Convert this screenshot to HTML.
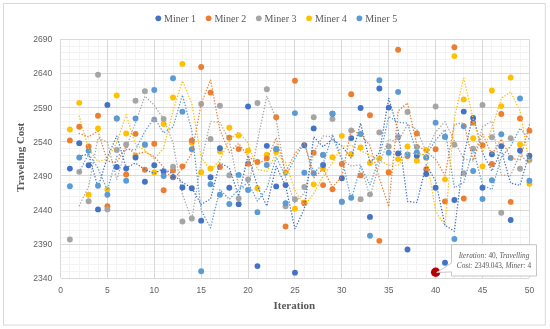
<!DOCTYPE html>
<html><head><meta charset="utf-8"><title>Traveling cost per iteration</title>
<style>html,body{margin:0;padding:0;background:#fff}svg{display:block}.tk{font-family:"Liberation Sans",sans-serif;font-size:8.5px;fill:#606060}.lg{font-family:"Liberation Serif",serif;font-size:10px;fill:#595959}.ax{font-family:"Liberation Serif",serif;font-size:11px;font-weight:bold;fill:#595959}.cl{font-family:"Liberation Serif",serif;font-size:7.3px;fill:#595959}</style></head><body>
<svg width="550" height="329" viewBox="0 0 550 329">
<rect x="0" y="0" width="550" height="329" fill="#fff"/>
<rect x="3.5" y="3.5" width="541.8" height="321.6" fill="#fff" stroke="#D9D9D9" stroke-width="1"/>
<path d="M69.88 39.30V278.40M79.26 39.30V278.40M88.63 39.30V278.40M98.01 39.30V278.40M116.77 39.30V278.40M126.15 39.30V278.40M135.52 39.30V278.40M144.90 39.30V278.40M163.66 39.30V278.40M173.04 39.30V278.40M182.41 39.30V278.40M191.79 39.30V278.40M210.55 39.30V278.40M219.93 39.30V278.40M229.30 39.30V278.40M238.68 39.30V278.40M257.44 39.30V278.40M266.82 39.30V278.40M276.19 39.30V278.40M285.57 39.30V278.40M304.33 39.30V278.40M313.71 39.30V278.40M323.08 39.30V278.40M332.46 39.30V278.40M351.22 39.30V278.40M360.60 39.30V278.40M369.97 39.30V278.40M379.35 39.30V278.40M398.11 39.30V278.40M407.49 39.30V278.40M416.86 39.30V278.40M426.24 39.30V278.40M445.00 39.30V278.40M454.38 39.30V278.40M463.75 39.30V278.40M473.13 39.30V278.40M491.89 39.30V278.40M501.27 39.30V278.40M510.64 39.30V278.40M520.02 39.30V278.40M60.50 271.57H529.40M60.50 264.74H529.40M60.50 257.91H529.40M60.50 251.07H529.40M60.50 237.41H529.40M60.50 230.58H529.40M60.50 223.75H529.40M60.50 216.92H529.40M60.50 203.25H529.40M60.50 196.42H529.40M60.50 189.59H529.40M60.50 182.76H529.40M60.50 169.10H529.40M60.50 162.27H529.40M60.50 155.43H529.40M60.50 148.60H529.40M60.50 134.94H529.40M60.50 128.11H529.40M60.50 121.28H529.40M60.50 114.45H529.40M60.50 100.78H529.40M60.50 93.95H529.40M60.50 87.12H529.40M60.50 80.29H529.40M60.50 66.63H529.40M60.50 59.79H529.40M60.50 52.96H529.40M60.50 46.13H529.40" stroke="#F3F3F3" stroke-width="1" fill="none" shape-rendering="crispEdges"/>
<path d="M60.50 39.30V278.40M107.39 39.30V278.40M154.28 39.30V278.40M201.17 39.30V278.40M248.06 39.30V278.40M294.95 39.30V278.40M341.84 39.30V278.40M388.73 39.30V278.40M435.62 39.30V278.40M482.51 39.30V278.40M529.40 39.30V278.40M60.50 278.40H529.40M60.50 244.24H529.40M60.50 210.09H529.40M60.50 175.93H529.40M60.50 141.77H529.40M60.50 107.61H529.40M60.50 73.46H529.40M60.50 39.30H529.40" stroke="#D9D9D9" stroke-width="1" fill="none" shape-rendering="crispEdges"/>
<text class="tk" x="52.2" y="281.40" text-anchor="end">2340</text>
<text class="tk" x="52.2" y="247.24" text-anchor="end">2390</text>
<text class="tk" x="52.2" y="213.09" text-anchor="end">2440</text>
<text class="tk" x="52.2" y="178.93" text-anchor="end">2490</text>
<text class="tk" x="52.2" y="144.77" text-anchor="end">2540</text>
<text class="tk" x="52.2" y="110.61" text-anchor="end">2590</text>
<text class="tk" x="52.2" y="76.46" text-anchor="end">2640</text>
<text class="tk" x="52.2" y="42.30" text-anchor="end">2690</text>
<text class="tk" x="60.50" y="292.9" text-anchor="middle">0</text>
<text class="tk" x="107.39" y="292.9" text-anchor="middle">5</text>
<text class="tk" x="154.28" y="292.9" text-anchor="middle">10</text>
<text class="tk" x="201.17" y="292.9" text-anchor="middle">15</text>
<text class="tk" x="248.06" y="292.9" text-anchor="middle">20</text>
<text class="tk" x="294.95" y="292.9" text-anchor="middle">25</text>
<text class="tk" x="341.84" y="292.9" text-anchor="middle">30</text>
<text class="tk" x="388.73" y="292.9" text-anchor="middle">35</text>
<text class="tk" x="435.62" y="292.9" text-anchor="middle">40</text>
<text class="tk" x="482.51" y="292.9" text-anchor="middle">45</text>
<text class="tk" x="529.40" y="292.9" text-anchor="middle">50</text>
<g fill="#FFC000">
<circle cx="69.88" cy="129.47" r="2.95"/>
<circle cx="79.26" cy="102.83" r="2.95"/>
<circle cx="88.63" cy="194.71" r="2.95"/>
<circle cx="98.01" cy="128.38" r="2.95"/>
<circle cx="107.39" cy="189.59" r="2.95"/>
<circle cx="116.77" cy="95.52" r="2.95"/>
<circle cx="126.15" cy="133.57" r="2.95"/>
<circle cx="135.52" cy="155.43" r="2.95"/>
<circle cx="144.90" cy="145.19" r="2.95"/>
<circle cx="154.28" cy="172.51" r="2.95"/>
<circle cx="163.66" cy="124.01" r="2.95"/>
<circle cx="173.04" cy="97.57" r="2.95"/>
<circle cx="182.41" cy="63.89" r="2.95"/>
<circle cx="191.79" cy="142.73" r="2.95"/>
<circle cx="201.17" cy="172.24" r="2.95"/>
<circle cx="210.55" cy="168.41" r="2.95"/>
<circle cx="219.93" cy="151.61" r="2.95"/>
<circle cx="229.30" cy="127.70" r="2.95"/>
<circle cx="238.68" cy="135.62" r="2.95"/>
<circle cx="248.06" cy="150.65" r="2.95"/>
<circle cx="257.44" cy="188.23" r="2.95"/>
<circle cx="266.82" cy="154.75" r="2.95"/>
<circle cx="276.19" cy="152.02" r="2.95"/>
<circle cx="285.57" cy="172.51" r="2.95"/>
<circle cx="294.95" cy="208.72" r="2.95"/>
<circle cx="304.33" cy="202.57" r="2.95"/>
<circle cx="313.71" cy="184.33" r="2.95"/>
<circle cx="323.08" cy="168.41" r="2.95"/>
<circle cx="332.46" cy="157.14" r="2.95"/>
<circle cx="341.84" cy="135.83" r="2.95"/>
<circle cx="351.22" cy="154.07" r="2.95"/>
<circle cx="360.60" cy="147.51" r="2.95"/>
<circle cx="369.97" cy="162.95" r="2.95"/>
<circle cx="379.35" cy="158.58" r="2.95"/>
<circle cx="388.73" cy="171.83" r="2.95"/>
<circle cx="398.11" cy="159.12" r="2.95"/>
<circle cx="407.49" cy="146.55" r="2.95"/>
<circle cx="416.86" cy="160.69" r="2.95"/>
<circle cx="426.24" cy="149.97" r="2.95"/>
<circle cx="445.00" cy="179.34" r="2.95"/>
<circle cx="454.38" cy="56.11" r="2.95"/>
<circle cx="463.75" cy="99.42" r="2.95"/>
<circle cx="473.13" cy="138.15" r="2.95"/>
<circle cx="482.51" cy="166.36" r="2.95"/>
<circle cx="491.89" cy="90.54" r="2.95"/>
<circle cx="501.27" cy="106.11" r="2.95"/>
<circle cx="510.64" cy="77.56" r="2.95"/>
<circle cx="520.02" cy="144.50" r="2.95"/>
<circle cx="529.40" cy="183.65" r="2.95"/>
</g>
<g fill="#ED7D31">
<circle cx="69.88" cy="140.41" r="2.95"/>
<circle cx="79.26" cy="126.74" r="2.95"/>
<circle cx="88.63" cy="146.55" r="2.95"/>
<circle cx="98.01" cy="115.81" r="2.95"/>
<circle cx="107.39" cy="206.26" r="2.95"/>
<circle cx="116.77" cy="118.54" r="2.95"/>
<circle cx="126.15" cy="174.56" r="2.95"/>
<circle cx="135.52" cy="133.85" r="2.95"/>
<circle cx="144.90" cy="169.78" r="2.95"/>
<circle cx="154.28" cy="143.82" r="2.95"/>
<circle cx="163.66" cy="190.27" r="2.95"/>
<circle cx="173.04" cy="170.46" r="2.95"/>
<circle cx="182.41" cy="166.36" r="2.95"/>
<circle cx="191.79" cy="140.41" r="2.95"/>
<circle cx="201.17" cy="67.04" r="2.95"/>
<circle cx="210.55" cy="92.59" r="2.95"/>
<circle cx="219.93" cy="167.05" r="2.95"/>
<circle cx="229.30" cy="137.67" r="2.95"/>
<circle cx="238.68" cy="149.08" r="2.95"/>
<circle cx="248.06" cy="163.63" r="2.95"/>
<circle cx="257.44" cy="161.99" r="2.95"/>
<circle cx="266.82" cy="158.37" r="2.95"/>
<circle cx="276.19" cy="117.18" r="2.95"/>
<circle cx="285.57" cy="226.48" r="2.95"/>
<circle cx="294.95" cy="80.77" r="2.95"/>
<circle cx="304.33" cy="203.25" r="2.95"/>
<circle cx="313.71" cy="152.70" r="2.95"/>
<circle cx="323.08" cy="185.08" r="2.95"/>
<circle cx="332.46" cy="189.18" r="2.95"/>
<circle cx="341.84" cy="163.97" r="2.95"/>
<circle cx="351.22" cy="94.29" r="2.95"/>
<circle cx="360.60" cy="175.38" r="2.95"/>
<circle cx="369.97" cy="115.27" r="2.95"/>
<circle cx="379.35" cy="240.83" r="2.95"/>
<circle cx="388.73" cy="172.51" r="2.95"/>
<circle cx="398.11" cy="49.68" r="2.95"/>
<circle cx="407.49" cy="156.12" r="2.95"/>
<circle cx="416.86" cy="133.57" r="2.95"/>
<circle cx="426.24" cy="169.23" r="2.95"/>
<circle cx="435.62" cy="149.29" r="2.95"/>
<circle cx="445.00" cy="201.41" r="2.95"/>
<circle cx="454.38" cy="47.29" r="2.95"/>
<circle cx="463.75" cy="198.47" r="2.95"/>
<circle cx="473.13" cy="122.64" r="2.95"/>
<circle cx="482.51" cy="145.19" r="2.95"/>
<circle cx="491.89" cy="164.04" r="2.95"/>
<circle cx="501.27" cy="113.97" r="2.95"/>
<circle cx="510.64" cy="201.89" r="2.95"/>
<circle cx="520.02" cy="118.54" r="2.95"/>
<circle cx="529.40" cy="130.64" r="2.95"/>
</g>
<g fill="#A5A5A5">
<circle cx="69.88" cy="239.46" r="2.95"/>
<circle cx="79.26" cy="171.83" r="2.95"/>
<circle cx="88.63" cy="201.20" r="2.95"/>
<circle cx="98.01" cy="74.82" r="2.95"/>
<circle cx="107.39" cy="209.40" r="2.95"/>
<circle cx="116.77" cy="149.97" r="2.95"/>
<circle cx="126.15" cy="144.50" r="2.95"/>
<circle cx="135.52" cy="100.78" r="2.95"/>
<circle cx="144.90" cy="91.22" r="2.95"/>
<circle cx="154.28" cy="119.43" r="2.95"/>
<circle cx="163.66" cy="118.89" r="2.95"/>
<circle cx="173.04" cy="166.71" r="2.95"/>
<circle cx="182.41" cy="221.43" r="2.95"/>
<circle cx="191.79" cy="218.56" r="2.95"/>
<circle cx="201.17" cy="103.93" r="2.95"/>
<circle cx="210.55" cy="139.04" r="2.95"/>
<circle cx="219.93" cy="105.77" r="2.95"/>
<circle cx="229.30" cy="175.25" r="2.95"/>
<circle cx="238.68" cy="198.34" r="2.95"/>
<circle cx="248.06" cy="179.34" r="2.95"/>
<circle cx="257.44" cy="103.04" r="2.95"/>
<circle cx="266.82" cy="89.31" r="2.95"/>
<circle cx="276.19" cy="148.60" r="2.95"/>
<circle cx="285.57" cy="206.26" r="2.95"/>
<circle cx="294.95" cy="199.29" r="2.95"/>
<circle cx="304.33" cy="187.00" r="2.95"/>
<circle cx="313.71" cy="117.18" r="2.95"/>
<circle cx="323.08" cy="154.75" r="2.95"/>
<circle cx="332.46" cy="118.89" r="2.95"/>
<circle cx="341.84" cy="201.55" r="2.95"/>
<circle cx="351.22" cy="130.50" r="2.95"/>
<circle cx="360.60" cy="199.16" r="2.95"/>
<circle cx="369.97" cy="194.37" r="2.95"/>
<circle cx="379.35" cy="132.41" r="2.95"/>
<circle cx="388.73" cy="146.55" r="2.95"/>
<circle cx="398.11" cy="136.99" r="2.95"/>
<circle cx="407.49" cy="111.99" r="2.95"/>
<circle cx="416.86" cy="146.89" r="2.95"/>
<circle cx="426.24" cy="157.48" r="2.95"/>
<circle cx="435.62" cy="106.52" r="2.95"/>
<circle cx="445.00" cy="136.99" r="2.95"/>
<circle cx="454.38" cy="144.71" r="2.95"/>
<circle cx="463.75" cy="173.20" r="2.95"/>
<circle cx="473.13" cy="148.81" r="2.95"/>
<circle cx="482.51" cy="104.88" r="2.95"/>
<circle cx="491.89" cy="137.19" r="2.95"/>
<circle cx="501.27" cy="212.82" r="2.95"/>
<circle cx="510.64" cy="138.15" r="2.95"/>
<circle cx="520.02" cy="168.82" r="2.95"/>
<circle cx="529.40" cy="160.01" r="2.95"/>
</g>
<polyline points="79.26,205.65 88.63,186.52 98.01,138.01 107.39,142.11 116.77,179.69 126.15,147.24 135.52,122.64 144.90,96.00 154.28,105.33 163.66,119.16 173.04,142.80 182.41,194.07 191.79,219.99 201.17,161.24 210.55,121.48 219.93,122.40 229.30,140.51 238.68,186.79 248.06,188.84 257.44,141.19 266.82,96.17 276.19,118.95 285.57,177.43 294.95,202.78 304.33,193.14 313.71,152.09 323.08,135.96 332.46,136.82 341.84,160.22 351.22,166.02 360.60,164.83 369.97,196.76 379.35,163.39 388.73,139.48 398.11,141.77 407.49,124.49 416.86,129.44 426.24,152.19 435.62,132.00 445.00,121.76 454.38,140.85 463.75,158.95 473.13,161.00 482.51,126.84 491.89,121.04 501.27,175.01 510.64,175.48 520.02,153.49 529.40,164.42" fill="none" stroke="#A5A5A5" stroke-width="1.4" stroke-dasharray="0.1 2.9" stroke-linecap="round" stroke-linejoin="round"/>
<g fill="#4472C4">
<circle cx="69.88" cy="168.62" r="2.95"/>
<circle cx="79.26" cy="143.14" r="2.95"/>
<circle cx="88.63" cy="165.27" r="2.95"/>
<circle cx="98.01" cy="209.40" r="2.95"/>
<circle cx="107.39" cy="104.88" r="2.95"/>
<circle cx="116.77" cy="167.05" r="2.95"/>
<circle cx="126.15" cy="168.62" r="2.95"/>
<circle cx="135.52" cy="157.48" r="2.95"/>
<circle cx="144.90" cy="181.74" r="2.95"/>
<circle cx="154.28" cy="165.27" r="2.95"/>
<circle cx="163.66" cy="171.49" r="2.95"/>
<circle cx="173.04" cy="177.29" r="2.95"/>
<circle cx="182.41" cy="187.54" r="2.95"/>
<circle cx="191.79" cy="188.23" r="2.95"/>
<circle cx="201.17" cy="220.67" r="2.95"/>
<circle cx="210.55" cy="177.29" r="2.95"/>
<circle cx="219.93" cy="148.19" r="2.95"/>
<circle cx="229.30" cy="187.82" r="2.95"/>
<circle cx="238.68" cy="204.14" r="2.95"/>
<circle cx="248.06" cy="106.52" r="2.95"/>
<circle cx="257.44" cy="266.10" r="2.95"/>
<circle cx="266.82" cy="145.87" r="2.95"/>
<circle cx="276.19" cy="186.38" r="2.95"/>
<circle cx="285.57" cy="185.08" r="2.95"/>
<circle cx="294.95" cy="272.66" r="2.95"/>
<circle cx="304.33" cy="145.19" r="2.95"/>
<circle cx="313.71" cy="128.38" r="2.95"/>
<circle cx="323.08" cy="165.00" r="2.95"/>
<circle cx="332.46" cy="113.76" r="2.95"/>
<circle cx="341.84" cy="178.32" r="2.95"/>
<circle cx="351.22" cy="138.08" r="2.95"/>
<circle cx="360.60" cy="107.96" r="2.95"/>
<circle cx="369.97" cy="216.92" r="2.95"/>
<circle cx="379.35" cy="88.49" r="2.95"/>
<circle cx="388.73" cy="107.61" r="2.95"/>
<circle cx="398.11" cy="153.38" r="2.95"/>
<circle cx="407.49" cy="249.43" r="2.95"/>
<circle cx="416.86" cy="155.64" r="2.95"/>
<circle cx="426.24" cy="173.95" r="2.95"/>
<circle cx="435.62" cy="187.75" r="2.95"/>
<circle cx="445.00" cy="262.69" r="2.95"/>
<circle cx="454.38" cy="199.98" r="2.95"/>
<circle cx="463.75" cy="111.58" r="2.95"/>
<circle cx="473.13" cy="118.00" r="2.95"/>
<circle cx="482.51" cy="187.75" r="2.95"/>
<circle cx="491.89" cy="154.20" r="2.95"/>
<circle cx="501.27" cy="146.21" r="2.95"/>
<circle cx="510.64" cy="220.06" r="2.95"/>
<circle cx="520.02" cy="150.52" r="2.95"/>
<circle cx="529.40" cy="155.71" r="2.95"/>
</g>
<polyline points="79.26,155.88 88.63,154.20 98.01,187.34 107.39,157.14 116.77,135.96 126.15,167.83 135.52,163.05 144.90,169.61 154.28,173.50 163.66,168.38 173.04,174.39 182.41,182.42 191.79,187.88 201.17,204.45 210.55,198.98 219.93,162.74 229.30,168.00 238.68,195.98 248.06,155.33 257.44,186.31 266.82,205.99 276.19,166.13 285.57,185.73 294.95,228.87 304.33,208.92 313.71,136.78 323.08,146.69 332.46,139.38 341.84,146.04 351.22,158.20 360.60,123.02 369.97,162.44 379.35,152.70 388.73,98.05 398.11,130.50 407.49,201.41 416.86,202.54 426.24,164.79 435.62,180.85 445.00,225.22 454.38,231.33 463.75,155.78 473.13,114.79 482.51,152.87 491.89,170.98 501.27,150.21 510.64,183.14 520.02,185.29 529.40,153.11" fill="none" stroke="#4472C4" stroke-width="1.4" stroke-dasharray="0.1 2.9" stroke-linecap="round" stroke-linejoin="round"/>
<g fill="#5B9BD5">
<circle cx="69.88" cy="186.31" r="2.95"/>
<circle cx="79.26" cy="157.48" r="2.95"/>
<circle cx="88.63" cy="150.65" r="2.95"/>
<circle cx="98.01" cy="185.77" r="2.95"/>
<circle cx="107.39" cy="194.71" r="2.95"/>
<circle cx="116.77" cy="118.54" r="2.95"/>
<circle cx="126.15" cy="180.71" r="2.95"/>
<circle cx="135.52" cy="118.54" r="2.95"/>
<circle cx="144.90" cy="144.50" r="2.95"/>
<circle cx="154.28" cy="90.06" r="2.95"/>
<circle cx="163.66" cy="175.93" r="2.95"/>
<circle cx="173.04" cy="78.24" r="2.95"/>
<circle cx="182.41" cy="111.71" r="2.95"/>
<circle cx="191.79" cy="149.29" r="2.95"/>
<circle cx="201.17" cy="271.30" r="2.95"/>
<circle cx="210.55" cy="184.13" r="2.95"/>
<circle cx="219.93" cy="194.78" r="2.95"/>
<circle cx="229.30" cy="203.94" r="2.95"/>
<circle cx="238.68" cy="174.90" r="2.95"/>
<circle cx="248.06" cy="190.00" r="2.95"/>
<circle cx="257.44" cy="212.14" r="2.95"/>
<circle cx="266.82" cy="165.00" r="2.95"/>
<circle cx="276.19" cy="149.29" r="2.95"/>
<circle cx="285.57" cy="203.25" r="2.95"/>
<circle cx="294.95" cy="113.08" r="2.95"/>
<circle cx="304.33" cy="172.72" r="2.95"/>
<circle cx="313.71" cy="173.20" r="2.95"/>
<circle cx="323.08" cy="154.89" r="2.95"/>
<circle cx="332.46" cy="113.76" r="2.95"/>
<circle cx="341.84" cy="201.89" r="2.95"/>
<circle cx="351.22" cy="197.79" r="2.95"/>
<circle cx="360.60" cy="134.05" r="2.95"/>
<circle cx="369.97" cy="235.70" r="2.95"/>
<circle cx="379.35" cy="80.29" r="2.95"/>
<circle cx="388.73" cy="152.70" r="2.95"/>
<circle cx="398.11" cy="91.90" r="2.95"/>
<circle cx="407.49" cy="154.34" r="2.95"/>
<circle cx="416.86" cy="152.36" r="2.95"/>
<circle cx="426.24" cy="157.48" r="2.95"/>
<circle cx="435.62" cy="122.64" r="2.95"/>
<circle cx="445.00" cy="136.65" r="2.95"/>
<circle cx="454.38" cy="238.98" r="2.95"/>
<circle cx="463.75" cy="126.26" r="2.95"/>
<circle cx="473.13" cy="170.94" r="2.95"/>
<circle cx="482.51" cy="198.95" r="2.95"/>
<circle cx="491.89" cy="180.30" r="2.95"/>
<circle cx="501.27" cy="134.26" r="2.95"/>
<circle cx="510.64" cy="157.89" r="2.95"/>
<circle cx="520.02" cy="98.46" r="2.95"/>
<circle cx="529.40" cy="180.71" r="2.95"/>
</g>
<polyline points="79.26,171.90 88.63,154.07 98.01,168.21 107.39,190.24 116.77,156.63 126.15,149.63 135.52,149.63 144.90,131.52 154.28,117.28 163.66,132.99 173.04,127.08 182.41,94.98 191.79,130.50 201.17,210.29 210.55,227.71 219.93,189.45 229.30,199.36 238.68,189.42 248.06,182.45 257.44,201.07 266.82,188.57 276.19,157.14 285.57,176.27 294.95,158.17 304.33,142.90 313.71,172.96 323.08,164.04 332.46,134.33 341.84,157.83 351.22,199.84 360.60,165.92 369.97,184.88 379.35,158.00 388.73,116.50 398.11,122.30 407.49,123.12 416.86,153.35 426.24,154.92 435.62,140.06 445.00,129.65 454.38,187.82 463.75,182.62 473.13,148.60 482.51,184.95 491.89,189.63 501.27,157.28 510.64,146.08 520.02,128.18 529.40,139.59" fill="none" stroke="#5B9BD5" stroke-width="1.4" stroke-dasharray="0.1 2.9" stroke-linecap="round" stroke-linejoin="round"/>
<polyline points="79.26,116.15 88.63,148.77 98.01,161.55 107.39,158.99 116.77,142.56 126.15,114.55 135.52,144.50 144.90,150.31 154.28,158.85 163.66,148.26 173.04,110.79 182.41,80.73 191.79,103.31 201.17,157.48 210.55,170.33 219.93,160.01 229.30,139.65 238.68,131.66 248.06,143.14 257.44,169.44 266.82,171.49 276.19,153.38 285.57,162.27 294.95,190.62 304.33,205.65 313.71,193.45 323.08,176.37 332.46,162.78 341.84,146.49 351.22,144.95 360.60,150.79 369.97,155.23 379.35,160.76 388.73,165.20 398.11,165.48 407.49,152.84 416.86,153.62 426.24,155.33 435.62,211.10 445.00,225.78 454.38,117.72 463.75,77.76 473.13,118.78 482.51,152.26 491.89,128.45 501.27,98.32 510.64,91.83 520.02,111.03 529.40,164.08" fill="none" stroke="#FFC000" stroke-width="1.4" stroke-dasharray="0.1 2.9" stroke-linecap="round" stroke-linejoin="round"/>
<polyline points="79.26,133.57 88.63,136.65 98.01,131.18 107.39,161.04 116.77,162.40 126.15,146.55 135.52,154.20 144.90,151.81 154.28,156.80 163.66,167.05 173.04,180.37 182.41,168.41 191.79,153.38 201.17,103.72 210.55,79.81 219.93,129.82 229.30,152.36 238.68,143.38 248.06,156.36 257.44,162.81 266.82,160.18 276.19,137.78 285.57,171.83 294.95,153.62 304.33,142.01 313.71,177.98 323.08,168.89 332.46,187.13 341.84,176.58 351.22,129.13 360.60,134.84 369.97,145.32 379.35,178.05 388.73,206.67 398.11,111.10 407.49,102.90 416.86,144.85 426.24,151.40 435.62,159.26 445.00,175.35 454.38,124.35 463.75,122.88 473.13,160.56 482.51,133.92 491.89,154.61 501.27,139.00 510.64,157.93 520.02,160.22 529.40,124.59" fill="none" stroke="#ED7D31" stroke-width="1.4" stroke-dasharray="0.1 2.9" stroke-linecap="round" stroke-linejoin="round"/>
<circle cx="435.62" cy="272.22" r="4.7" fill="#B40000"/>
<path d="M451.5 244.7H536.5V276H451.5V271.9L436.62 272.52L451.5 263.1Z" fill="#fff" stroke="#BFBFBF" stroke-width="0.9" stroke-linejoin="round"/>
<text class="cl" x="494" y="258.1" text-anchor="middle"><tspan font-style="italic">Iteration:</tspan> 40, <tspan font-style="italic">Travelling</tspan></text>
<text class="cl" x="494" y="267.9" text-anchor="middle"><tspan font-style="italic">Cost:</tspan> 2349.043, <tspan font-style="italic">Miner:</tspan> 4</text>
<circle cx="158.3" cy="18.3" r="2.9" fill="#4472C4"/>
<text class="lg" x="164.1" y="21.6">Miner 1</text>
<circle cx="208.6" cy="18.3" r="2.9" fill="#ED7D31"/>
<text class="lg" x="214.4" y="21.6">Miner 2</text>
<circle cx="258.8" cy="18.3" r="2.9" fill="#A5A5A5"/>
<text class="lg" x="264.6" y="21.6">Miner 3</text>
<circle cx="309.1" cy="18.3" r="2.9" fill="#FFC000"/>
<text class="lg" x="314.9" y="21.6">Miner 4</text>
<circle cx="359.4" cy="18.3" r="2.9" fill="#5B9BD5"/>
<text class="lg" x="365.2" y="21.6">Miner 5</text>
<text class="ax" x="294.3" y="309.3" text-anchor="middle">Iteration</text>
<text class="ax" transform="translate(23.6 157.3) rotate(-90)" text-anchor="middle">Traveling Cost</text>
</svg></body></html>
